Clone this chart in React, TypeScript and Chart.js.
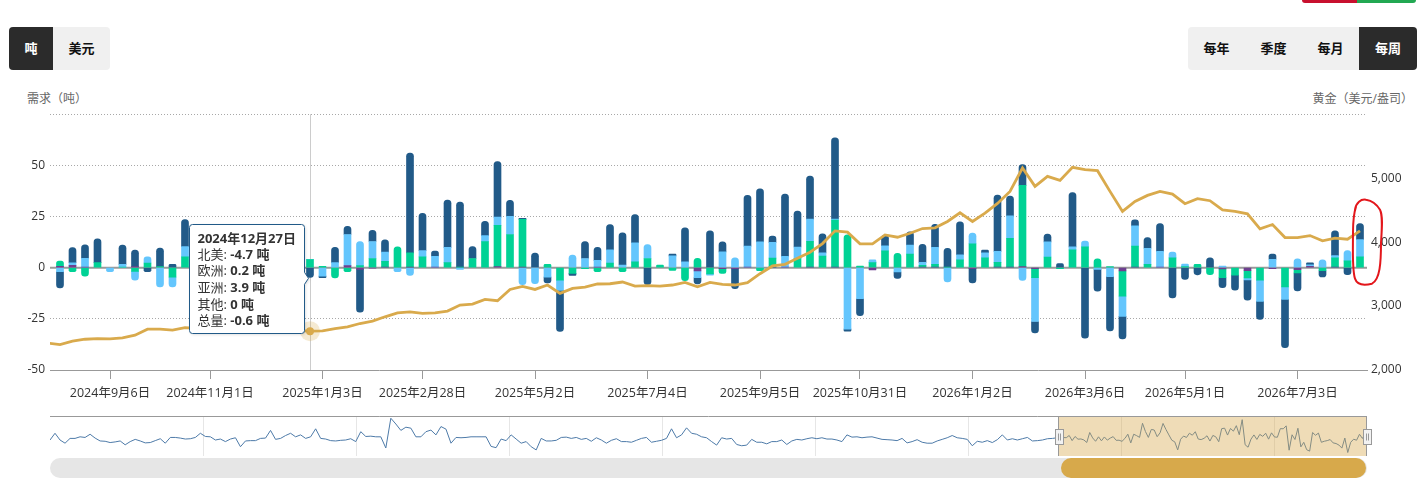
import React, { useEffect, useRef } from "react";
import { Chart, registerables } from "chart.js";

Chart.register(...registerables);

const FONT = '"Open Sans", "Noto Sans CJK SC", "Noto Sans", sans-serif';

// ---- categories ----
const startDate = Date.UTC(2024, 7, 9); // first week shown
const weekMs = 7 * 86400000;
const weekCount = 105;
function fmtDate(t: number) {
  const d = new Date(t);
  return `${d.getUTCFullYear()}年${d.getUTCMonth() + 1}月${d.getUTCDate()}日`;
}
const weekLabels = Array.from({ length: weekCount }, (_, i) => fmtDate(startDate + i * weekMs));
const tickWeeks = [4, 12, 21, 29, 38, 47, 56, 64, 73, 82, 90, 99];
const hoverWeek = 20;

// ---- series (tonnes) ----
const northAmerica = [
  -7.9, 7.4, 6.6, 11.6, 0, 9.4, 8.1, -2.0, 9.1, 1.6,
  13.2, 3, -3, 5, 2, 6, -4, 3, 7, -2,
  -4.7, -0.8, 7.4, 4.0, -21.0, 5.5, 6.0, 0, 48.8, 18.2,
  2.5, 23.1, 31.7, 5.8, 6.9, 27.1, 7.8, 0.5, 7.1, -2.8,
  -20.0, -1.0, 8.3, 6.4, 12.4, 15.7, 13.7, -8.3, 0, 0.8,
  16.7, -3.0, 18.0, 4.9, -9.7, 24.9, 25.9, 3.0, 30.5, 17.5,
  21.1, 9.3, 39.7, -1.0, -8.2, 0, 5.2, -3.1, 6.4, 8.8,
  11.2, 9.2, 16.1, -6.9, 1.3, 27.5, 9.7, 10.2, -5.6, 3.8,
  2.0, 26.5, -34.5, -10.7, -26.5, -11.0, 3.0, 5.2, 13.6, -14.8,
  -5.7, -3.5, 4.8, -4.9, -7.4, -9.9, -8.8, 2.5, -23.6, -8.8,
  1.0, -3.0, 12.1, -3.4, 7.8,
];
const europe = [
  -2.0, 1.3, 4.3, 0, -2.0, 1.3, -4.3, 3.0, -9.4, -4.8,
  5.0, 2, -2, 3, -3, 2.5, 1.5, 4, 2, -1.5,
  0.2, -4.1, 2.5, 15.2, 11.7, 8.3, 4.5, -2.0, -3.8, 3.0,
  5.3, 7.4, -0.8, 0, 3.0, 4.0, 8.9, -8.3, -7.8, -4.6,
  -5.0, 6.1, 4.5, 3.3, 6.4, 1.3, 9.4, 6.8, 0, 5.8,
  2.8, -3.3, -0.7, 7.7, 4.8, 10.2, 12.6, 7.7, 5.2, 5.7,
  10.8, 1.5, 0.5, -30.0, -15.2, 1.3, 2.5, -2.1, 4.4, 1.5,
  8.4, -6.9, 2.5, 5.2, 2.5, 5.4, 10.9, -6.2, -21.4, 7.4,
  0, 1.5, 2.8, -0.8, -4.4, -9.9, 9.9, 7.9, 7.7, 2.8,
  1.3, 0, 0, 0.8, 0, -1.0, -10.4, 4.1, -6.1, 4.3,
  0.7, 3.8, 1.1, 5.0, 8.4,
];
const asia = [
  2.6, -2.0, -4.1, 2.5, 0, 0.3, -1.8, 2.3, 0.5, -4.6,
  5.3, 1.5, 1, 2, -1.5, 1, 2, -1, 1.5, 2.5,
  3.9, 0.7, -5.0, -2.0, 1.0, 4.5, 2.8, 10.2, 6.9, 5.3,
  0, 2.5, 0.3, 4.5, 12.7, 20.2, 16.2, 23.3, 0, 1.6,
  -6.1, -2.8, -0.5, -2.0, 2.3, -2.0, 2.8, 4.5, 1.3, -1.3,
  -6.3, 4.6, -3.0, -2.3, 0, 0, -1.5, 4.4, 0, 4.4,
  12.6, 5.7, 23.0, 16.1, 0.8, 2.5, 8.2, 7.0, 6.7, 0.8,
  1.3, 0.3, 3.8, 11.7, 4.8, 2.3, 14.1, 39.7, -4.4, 5.2,
  -0.5, 8.7, 10.2, 4.3, 0.5, -12.3, 10.2, 1.6, 0, 4.8,
  0.5, 1.6, -3.4, -4.3, -3.6, -3.5, -6.1, 0, -9.4, -1.6,
  0, -1.5, 4.5, 3.3, 5.3,
];
const other = [
  0.6, 1.1, 0.3, 0, 0, 0, 0.5, 0, 0, 0,
  0, 0, 0, 0, 0, 0, 0, 0, 0, 0,
  0, 0, 0, 1.0, -0.8, -0.3, 0.3, 0, 0.3, 0,
  0.3, 0, 0, 0, 0, 0.5, 0, 0.3, 0, 0,
  0, 0, 0, 0.3, 0, 0, 0, 0, 0, 0,
  0, -1.6, 0, -0.5, -0.5, 0.3, 0, 0.3, 0.3, 0,
  0.3, 0, 0.3, 0, 0, -1.1, 0, 0, 0, 0.3,
  0.3, 0, 0, -0.5, 0, 0.3, 0.3, 0.5, -0.5, 0,
  0, 0, 0, 0, 0, -1.6, 0.3, 0, 0.3, 0,
  0, 0, 0, -0.6, 0, -1.5, 0, -0.5, 0, -1.0,
  0.7, 0, 0.3, 0, 0,
];
// gold price (USD/oz), first value is the week before the first bar
const goldPrice = [
  2420,
  2397, 2450, 2481, 2491, 2486, 2502, 2544, 2638, 2638, 2623,
  2664, 2650, 2640, 2620, 2590, 2600, 2640, 2650, 2630, 2615,
  2607, 2612, 2648, 2675, 2727, 2764, 2832, 2894, 2910, 2884,
  2894, 2921, 3015, 3030, 3104, 3083, 3260, 3307, 3260, 3329,
  3198, 3276, 3297, 3345, 3349, 3376, 3313, 3318, 3313, 3329,
  3370, 3302, 3370, 3339, 3329, 3365, 3506, 3627, 3652, 3746,
  3841, 3977, 4176, 4155, 3972, 3972, 4113, 4076, 4139, 4212,
  4223, 4322, 4458, 4322, 4452, 4605, 4793, 5158, 4871, 5028,
  4965, 5169, 5133, 5117, 4793, 4479, 4635, 4730, 4793, 4751,
  4600, 4678, 4647, 4505, 4479, 4443, 4207, 4275, 4071, 4071,
  4102, 4019, 4061, 4045, 4176,
];
// navigator: earlier weekly total demand (sampled), from 2018-01-01
const navHistory = [
  0, 21, 0, -10, 5, 5, 10, 8, 18, 6,
  -3, -4, -8, -6, -3, -15, -5, 2, -3, -9,
  -8, -2, 4, -10, 8, 8, 6, 3, 4, 8,
  21, 11, 10, 0, 3, -5, 3, 7, -21, -3,
  -2, -2, 5, 6, 30, 2, 5, 14, 21, 10,
  16, 5, 10, 35, 5, 3, -2, -3, -1, 0,
  4, -5, 26, 11, 12, 10, 10, -25, 68, 50,
  30, 40, 37, 10, 10, 26, 31, 16, 42, 34,
  -10, 8, 7, 8, 10, 10, 10, 10, -20, -24,
  3, -2, 16, 3, -10,
  -5, -21, -31, 5, -3, -3, -1, 8, 9, 5,
  8, 2, 5, -4, 7, 0, -10, -1, 4, -5,
  -5, -7, -1, 5, 8, -7, -4, -1, 5, 35,
  7, 16, 38, 21, 18, 10, 7, -5, -16, 7,
  3, 5, -14, -18, -16, 2, -7, -7, -12, -5,
  -5, 0, -14, -3, 2, 0, 4, 7, 4, 7,
  3, 3, 0, -5, 16, 9, 10, 7, 9, 10,
  6, 2, 1, 0, -2, 5, -9, -5, 1, -7,
  -10, -10, -3, 2, 7, 14, 7, 5, 2, -18,
  -4, -7, -2, -8,
  1, 16, 0, 4, 0, 4, 8, -3, -2, 0, 4, 5, 7,
];
const navYears = [2019, 2020, 2021, 2022, 2023, 2024, 2025, 2026];

const seriesNames = ["北美", "欧洲", "亚洲", "其他"];
const leftMin = -50, leftMax = 75, leftStep = 25;
const rightMin = 2000, rightMax = 6000, rightStep = 1000;
const xMin = -0.8, xMax = 104.56;

const NA_C = "#215a88";
const EU_C = "#64c6fd";
const AS_C = "#00d295";
const OT_C = "#6e3f8f";
const GOLD = "#d9aa4c";

const fmtT = (v: number) => `${Math.round(v * 10) / 10} 吨`;
const toBar = (arr: number[]) => arr.map((v, i) => ({ x: i, y: v === 0 ? null : v }));

const mainPlugin = {
  id: "mainDeco",
  beforeDatasetsDraw(chart: any) {
    const { ctx, chartArea, scales } = chart;
    const x = Math.round(scales.x.getPixelForValue(hoverWeek)) + 0.5;
    ctx.save();
    ctx.strokeStyle = "#cccccc";
    ctx.lineWidth = 1;
    ctx.beginPath();
    ctx.moveTo(x, chartArea.top);
    ctx.lineTo(x, chartArea.bottom);
    ctx.stroke();
    const y0 = scales.y.getPixelForValue(0);
    ctx.strokeStyle = "#9a9a9a";
    ctx.lineWidth = 2;
    ctx.beginPath();
    ctx.moveTo(chartArea.left, y0);
    ctx.lineTo(chartArea.right, y0);
    ctx.stroke();
    ctx.restore();
  },
  afterDatasetsDraw(chart: any) {
    const { ctx, scales } = chart;
    const gx = scales.x.getPixelForValue(hoverWeek);
    const gy = scales.y2.getPixelForValue(goldPrice[hoverWeek + 1]);
    ctx.save();
    ctx.fillStyle = "rgba(217,170,76,0.25)";
    ctx.beginPath();
    ctx.arc(gx, gy, 10, 0, Math.PI * 2);
    ctx.fill();
    ctx.fillStyle = GOLD;
    ctx.beginPath();
    ctx.arc(gx, gy, 4, 0, Math.PI * 2);
    ctx.fill();
    ctx.restore();
  },
  afterDraw(chart: any) {
    const { ctx, scales } = chart;
    const h = hoverWeek;
    const el = chart.getDatasetMeta(4).data[h];
    const bx = el.x;
    const ay = el.y;
    const vals = [northAmerica[h], europe[h], asia[h], other[h]];
    const total = vals.reduce((a, b) => a + b, 0);
    const rows: [string, number][] = seriesNames.map((n, k) => [n, vals[k]] as [string, number]);
    rows.push(["总量", total]);
    const boldF = `bold 13px ${FONT}`;
    const normF = `13px ${FONT}`;
    ctx.save();
    ctx.font = boldF;
    let w = ctx.measureText(weekLabels[h]).width;
    rows.forEach(([n, v]) => {
      ctx.font = normF;
      const a = ctx.measureText(n + ": ").width;
      ctx.font = boldF;
      const b = ctx.measureText(fmtT(v)).width;
      w = Math.max(w, a + b);
    });
    const boxW = Math.round(w + 17);
    const boxH = 109;
    const cy = ay + 1;
    const right = Math.round(bx - 6) + 0.5;
    const left = right - boxW;
    const top = Math.round(cy - boxH / 2) + 0.5;
    const bottom = top + boxH;
    const r = 3;
    ctx.beginPath();
    ctx.moveTo(left + r, top);
    ctx.lineTo(right - r, top);
    ctx.arcTo(right, top, right, top + r, r);
    ctx.lineTo(right, cy - 6);
    ctx.lineTo(bx - 1.5, cy);
    ctx.lineTo(right, cy + 6);
    ctx.lineTo(right, bottom - r);
    ctx.arcTo(right, bottom, right - r, bottom, r);
    ctx.lineTo(left + r, bottom);
    ctx.arcTo(left, bottom, left, bottom - r, r);
    ctx.lineTo(left, top + r);
    ctx.arcTo(left, top, left + r, top, r);
    ctx.closePath();
    ctx.shadowColor = "rgba(0,0,0,0.15)";
    ctx.shadowBlur = 3;
    ctx.shadowOffsetX = 1;
    ctx.shadowOffsetY = 1;
    ctx.fillStyle = "#ffffff";
    ctx.fill();
    ctx.shadowColor = "transparent";
    ctx.strokeStyle = NA_C;
    ctx.lineWidth = 1;
    ctx.stroke();
    ctx.textBaseline = "middle";
    ctx.textAlign = "left";
    ctx.fillStyle = "#333333";
    const tx = left + 8;
    ctx.font = boldF;
    ctx.fillText(weekLabels[h], tx, top + 14.6);
    rows.forEach(([n, v], k) => {
      const y = top + 30.6 + k * 16.6;
      ctx.font = normF;
      ctx.fillText(n + ": ", tx, y);
      const a = ctx.measureText(n + ": ").width;
      ctx.font = boldF;
      ctx.fillText(fmtT(v), tx + a, y);
    });
    ctx.restore();

    // hand-drawn red loop around the latest week
    const last = chart.getDatasetMeta(4).data[weekCount - 1];
    const lx = last.x;
    const z = scales.y.getPixelForValue(0);
    ctx.save();
    ctx.strokeStyle = "#e3161b";
    ctx.lineWidth = 2;
    ctx.lineJoin = "round";
    ctx.lineCap = "round";
    ctx.beginPath();
    ctx.moveTo(lx - 5, z - 58);
    ctx.bezierCurveTo(lx - 4, z - 65, lx + 1, z - 69, lx + 6, z - 68);
    ctx.bezierCurveTo(lx + 12, z - 67, lx + 17, z - 63, lx + 20, z - 58);
    ctx.bezierCurveTo(lx + 23, z - 52, lx + 22, z - 40, lx + 21, z - 25);
    ctx.bezierCurveTo(lx + 21, z - 5, lx + 20, z + 12, lx + 12, z + 16);
    ctx.bezierCurveTo(lx + 4, z + 18, lx - 3, z + 17, lx - 5, z + 11);
    ctx.bezierCurveTo(lx - 8, z + 2, lx - 7, z - 20, lx - 7, z - 35);
    ctx.bezierCurveTo(lx - 7, z - 45, lx - 7, z - 52, lx - 4, z - 61);
    ctx.stroke();
    ctx.restore();
  },
};

const navMin = (Date.UTC(2018, 0, 1) - startDate) / weekMs;

const navPlugin = {
  id: "navDeco",
  beforeDatasetsDraw(chart: any) {
    const { ctx, chartArea, scales } = chart;
    ctx.save();
    ctx.strokeStyle = "#e6e6e6";
    ctx.lineWidth = 1;
    navYears.forEach((y) => {
      const wk = (Date.UTC(y, 0, 1) - startDate) / weekMs;
      const x = Math.round(scales.x.getPixelForValue(wk)) + 0.5;
      ctx.beginPath();
      ctx.moveTo(x, chartArea.top);
      ctx.lineTo(x, chartArea.bottom);
      ctx.stroke();
    });
    ctx.restore();
  },
  afterDatasetsDraw(chart: any) {
    const { ctx, chartArea, scales } = chart;
    const x1 = Math.round(scales.x.getPixelForValue(xMin)) + 0.5;
    const x2 = Math.round(scales.x.getPixelForValue(xMax)) - 0.5;
    ctx.save();
    ctx.fillStyle = "rgba(214,168,74,0.4)";
    ctx.fillRect(x1, chartArea.top, x2 - x1, chartArea.bottom - chartArea.top);
    ctx.strokeStyle = "#999999";
    ctx.lineWidth = 1;
    ctx.beginPath();
    ctx.moveTo(chartArea.left, chartArea.top + 0.5);
    ctx.lineTo(chartArea.right, chartArea.top + 0.5);
    ctx.moveTo(x1, chartArea.top);
    ctx.lineTo(x1, chartArea.bottom);
    ctx.moveTo(x2, chartArea.top);
    ctx.lineTo(x2, chartArea.bottom);
    ctx.stroke();
    const cy = (chartArea.top + chartArea.bottom) / 2;
    [x1, x2].forEach((hx) => {
      const l = Math.round(hx - 4) + 0.5;
      const t = Math.round(cy - 7.5) + 0.5;
      ctx.fillStyle = "#f2f2f2";
      ctx.fillRect(l, t, 8, 15);
      ctx.strokeStyle = "#999999";
      ctx.strokeRect(l, t, 8, 15);
      ctx.beginPath();
      ctx.moveTo(l + 3, t + 4);
      ctx.lineTo(l + 3, t + 11);
      ctx.moveTo(l + 5, t + 4);
      ctx.lineTo(l + 5, t + 11);
      ctx.stroke();
    });
    ctx.restore();
  },
};

export default function App() {
  const mainRef = useRef<HTMLCanvasElement>(null);
  const navRef = useRef<HTMLCanvasElement>(null);

  useEffect(() => {
    Chart.defaults.font.family = FONT;
    Chart.defaults.font.size = 12;
    Chart.defaults.color = "#333333";

    const barBase = {
      type: "bar" as const,
      yAxisID: "y",
      stack: "s",
      order: 1,
      barThickness: 7,
      borderRadius: 4,
      borderSkipped: "start" as const,
    };

    const main = new Chart(mainRef.current as HTMLCanvasElement, {
      type: "bar",
      data: {
        datasets: [
          {
            type: "line",
            label: "黄金",
            data: goldPrice.map((v, k) => ({ x: k - 1, y: v })),
            yAxisID: "y2",
            borderColor: GOLD,
            borderWidth: 2.8,
            pointRadius: 0,
            tension: 0,
            order: 0,
          } as any,
          { ...barBase, label: "其他", data: toBar(other), backgroundColor: OT_C } as any,
          { ...barBase, label: "亚洲", data: toBar(asia), backgroundColor: AS_C } as any,
          { ...barBase, label: "欧洲", data: toBar(europe), backgroundColor: EU_C } as any,
          { ...barBase, label: "北美", data: toBar(northAmerica), backgroundColor: NA_C } as any,
        ],
      },
      options: {
        responsive: false,
        animation: false,
        events: [],
        layout: { padding: { top: 3, left: 0, right: 0, bottom: 0 } },
        plugins: { legend: { display: false }, tooltip: { enabled: false } },
        scales: {
          x: {
            type: "linear",
            min: xMin,
            max: xMax,
            offset: false,
            stacked: true,
            afterBuildTicks: (s: any) => {
              s.ticks = tickWeeks.map((v) => ({ value: v }));
            },
            afterFit: (s: any) => {
              s.height = 37;
            },
            ticks: {
              autoSkip: false,
              maxRotation: 0,
              minRotation: 0,
              padding: 7,
              color: "#333333",
              font: { size: 12.5 },
              callback: (v: any) => weekLabels[v] ?? "",
            },
            grid: {
              offset: false,
              drawOnChartArea: false,
              drawTicks: true,
              tickLength: 9,
              color: "#999999",
              tickColor: "#999999",
            },
            border: { display: true, color: "#999999", width: 1 },
          },
          y: {
            type: "linear",
            position: "left",
            min: leftMin,
            max: leftMax,
            stacked: true,
            afterFit: (s: any) => {
              s.width = 50;
            },
            ticks: {
              stepSize: leftStep,
              padding: 5,
              color: "#333333",
              callback: (v: any) => (v === leftMax ? "" : String(v)),
            },
            grid: { color: "#a8a8a8", lineWidth: 1, drawTicks: false, borderDash: [1, 2] } as any,
            border: { display: false, dash: [1, 2] },
          },
          y2: {
            type: "linear",
            position: "right",
            min: rightMin,
            max: rightMax,
            afterFit: (s: any) => {
              s.width = 60;
            },
            ticks: {
              stepSize: rightStep,
              padding: 4,
              color: "#333333",
              callback: (v: any) => (v === rightMax ? "" : Number(v).toLocaleString("en-US")),
            },
            grid: { drawOnChartArea: false, drawTicks: false },
            border: { display: false },
          },
        },
      } as any,
      plugins: [mainPlugin],
    });

    const totals = northAmerica.map((v, i) => v + europe[i] + asia[i] + other[i]);
    const histStep = (-1 - navMin) / (navHistory.length - 1);
    const navData = [
      ...navHistory.map((v, k) => ({ x: navMin + k * histStep, y: v })),
      ...totals.map((v, i) => ({ x: i, y: v })),
    ];

    const nav = new Chart(navRef.current as HTMLCanvasElement, {
      type: "line",
      data: {
        datasets: [
          {
            data: navData,
            borderColor: "#4d7aa8",
            borderWidth: 1,
            pointRadius: 0,
            tension: 0,
          },
        ],
      },
      options: {
        responsive: false,
        animation: false,
        events: [],
        layout: { padding: { left: 50, right: 60, top: 0, bottom: 0 } },
        plugins: { legend: { display: false }, tooltip: { enabled: false } },
        scales: {
          x: { type: "linear", display: false, min: navMin, max: xMax },
          y: { type: "linear", display: false, min: leftMin, max: leftMax },
        },
      } as any,
      plugins: [navPlugin],
    });

    return () => {
      main.destroy();
      nav.destroy();
    };
  }, []);

  const btn = (label: string, active: boolean, width: number) => (
    <div
      key={label}
      style={{
        width,
        height: 43,
        lineHeight: "43px",
        textAlign: "center",
        fontWeight: 700,
        fontSize: 13,
        color: active ? "#ffffff" : "#111111",
        background: active ? "#2b2b2b" : "transparent",
      }}
    >
      {label}
    </div>
  );

  return (
    <div
      style={{
        position: "absolute",
        left: 0,
        top: 0,
        width: 1427,
        height: 493,
        background: "#ffffff",
        fontFamily: FONT,
        overflow: "hidden",
      }}
    >
      <div style={{ position: "absolute", left: 1302, top: 0, width: 55, height: 3, background: "#c8102e", borderBottomLeftRadius: 3 }} />
      <div style={{ position: "absolute", left: 1357, top: 0, width: 59, height: 3, background: "#22a852", borderBottomRightRadius: 3 }} />

      <div
        style={{
          position: "absolute",
          left: 9,
          top: 27,
          display: "flex",
          background: "#f0f0f0",
          borderRadius: 4,
          overflow: "hidden",
        }}
      >
        {btn("吨", true, 44)}
        {btn("美元", false, 57)}
      </div>
      <div
        style={{
          position: "absolute",
          left: 1188,
          top: 27,
          display: "flex",
          background: "#f0f0f0",
          borderRadius: 4,
          overflow: "hidden",
        }}
      >
        {btn("每年", false, 57)}
        {btn("季度", false, 57)}
        {btn("每月", false, 57)}
        {btn("每周", true, 58)}
      </div>

      <div style={{ position: "absolute", left: 27, top: 91, fontSize: 12, lineHeight: "16px", color: "#666666" }}>需求（吨）</div>
      <div style={{ position: "absolute", right: 14, top: 91, fontSize: 12, lineHeight: "16px", color: "#666666", textAlign: "right" }}>
        黄金（美元/盎司）
      </div>

      <canvas ref={mainRef} width={1427} height={305} style={{ position: "absolute", left: 0, top: 102 }} />
      <canvas ref={navRef} width={1427} height={40} style={{ position: "absolute", left: 0, top: 416 }} />

      <div style={{ position: "absolute", left: 50, top: 458, width: 1317, height: 20, borderRadius: 10, background: "#e6e6e6" }} />
      <div style={{ position: "absolute", left: 1061, top: 458, width: 305, height: 20, borderRadius: 10, background: "#d7a94b" }} />
    </div>
  );
}
